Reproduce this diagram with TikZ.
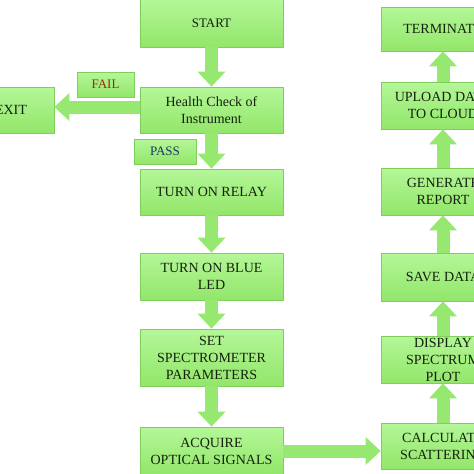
\documentclass[tikz,border=0pt]{standalone}
\usepackage{fontspec}
\setmainfont{Liberation Serif}
\usetikzlibrary{arrows.meta}
\definecolor{boxtop}{RGB}{180,247,152}
\definecolor{boxbot}{RGB}{146,230,106}
\definecolor{boxedge}{RGB}{128,206,92}
\definecolor{arrowfill}{RGB}{150,232,112}
\definecolor{ink}{RGB}{22,34,14}
\definecolor{failred}{RGB}{165,38,18}
\definecolor{passblue}{RGB}{28,52,98}
\tikzset{
  flowbox/.style={draw=boxedge, line width=0.8pt, top color=boxtop, bottom color=boxbot, text=ink,
    align=center, inner sep=0pt, font=\fontsize{14pt}{17pt}\selectfont},
  tagbox/.style={flowbox, font=\fontsize{13pt}{16pt}\selectfont, minimum height=25pt},
  fatarrow/.style={draw=arrowfill, line width=13pt, -{Triangle[width=28pt,length=15pt,line width=0pt]}},
}
\begin{document}
\begin{tikzpicture}[x=1pt,y=-1pt]
    \useasboundingbox (0,0) rectangle (474,474);
    \fill[white] (0,0) rectangle (474,474);
    \clip (0,0) rectangle (474,474);
    \node[flowbox, minimum width=143pt, minimum height=48pt, font=\fontsize{13pt}{16pt}\selectfont] (start) at (211.5,23) {START};
    \node[flowbox, minimum width=143pt, minimum height=46pt] (health) at (211.5,110) {Health Check of\\Instrument};
    \node[flowbox, minimum width=143pt, minimum height=46pt] (relay) at (211.5,192) {TURN ON RELAY};
    \node[flowbox, minimum width=143pt, minimum height=47pt] (blueled) at (211.5,276.5) {TURN ON BLUE\\LED};
    \node[flowbox, minimum width=143pt, minimum height=57pt] (params) at (211.5,357.5) {SET\\SPECTROMETER\\PARAMETERS};
    \node[flowbox, minimum width=143pt, minimum height=48pt] (acquire) at (211.5,451) {ACQUIRE\\OPTICAL SIGNALS};
    \node[flowbox, minimum width=86pt, minimum height=46pt] (exit) at (11,110) {EXIT};
    \node[tagbox, minimum width=57pt, text=failred] (fail) at (105.5,84.5) {FAIL};
    \node[tagbox, minimum width=62pt, text=passblue] (pass) at (165,151.5) {PASS};
    \node[flowbox, minimum width=124pt, minimum height=44pt] (terminate) at (443,29) {TERMINATE};
    \node[flowbox, minimum width=124pt, minimum height=47pt] (upload) at (443,105.5) {UPLOAD DATA\\TO CLOUD};
    \node[flowbox, minimum width=124pt, minimum height=47pt] (report) at (443,191.5) {GENERATE\\REPORT};
    \node[flowbox, minimum width=124pt, minimum height=48pt] (save) at (443,277) {SAVE DATA};
    \node[flowbox, minimum width=124pt, minimum height=47pt] (display) at (443,359.5) {DISPLAY\\SPECTRUM\\PLOT};
    \node[flowbox, minimum width=124pt, minimum height=46pt] (calc) at (443,446) {CALCULATE\\SCATTERING};
    \draw[fatarrow] (start) -- (health);
    \draw[fatarrow] (health) -- (relay);
    \draw[fatarrow] (relay) -- (blueled);
    \draw[fatarrow] (blueled) -- (params);
    \draw[fatarrow] (params) -- (acquire);
    \draw[fatarrow] ([yshift=3pt]health.west) -- ([yshift=3pt]health.west -| exit.east);
    \draw[fatarrow] (acquire.east) -- (acquire.east -| calc.west);
    \draw[fatarrow] (calc) -- (display);
    \draw[fatarrow] (display) -- (save);
    \draw[fatarrow] (save) -- (report);
    \draw[fatarrow] (report) -- (upload);
    \draw[fatarrow] (upload) -- (terminate);
\end{tikzpicture}
\end{document}
